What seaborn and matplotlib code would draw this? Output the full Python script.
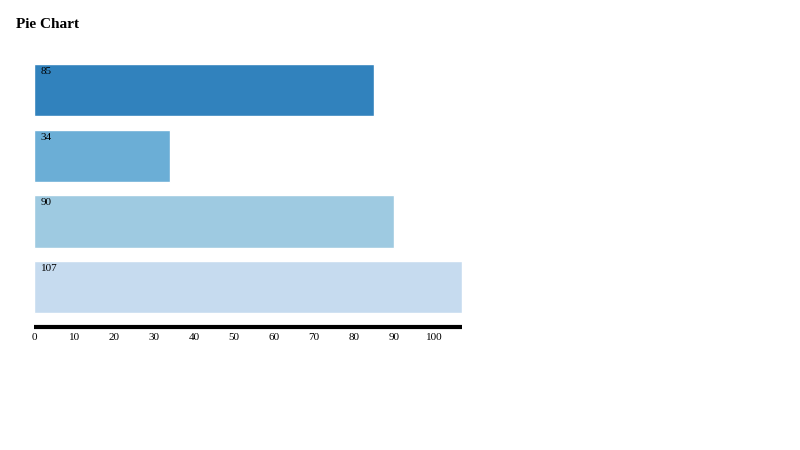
import pandas as pd
import seaborn as sns
import matplotlib.pyplot as plt

categories = ['A', 'B', 'C', 'D']
values = [85, 34, 90, 107]
colors = ['#3182bd', '#6baed6', '#9ecae1', '#c6dbef']
x_ticks = [0, 10, 20, 30, 40, 50, 60, 70, 80, 90, 100]

df = pd.DataFrame({'category': categories, 'value': values})

sns.set_style('white')
plt.rcParams['font.family'] = ['Liberation Serif', 'DejaVu Serif']

fig = plt.figure(figsize=(8, 4.5), dpi=100)
ax = fig.add_axes([34.3 / 800, 1 - 327 / 450, 428 / 800, 263 / 450])
sns.barplot(data=df, x='value', y='category', hue='category', palette=colors,
            orient='h', width=0.8, legend=False, ax=ax, saturation=1)

for i, v in enumerate(values):
    ax.annotate(str(v), xy=(0, i - 0.4), xytext=(4.5, -2.2), textcoords='offset points',
                ha='left', va='top', fontsize=8, color='black')

ax.set_xlim(0, 107)
ax.set_ylim(3.61, -0.4)
ax.set_xticks(x_ticks)
ax.set_xticklabels([str(t) for t in x_ticks], fontsize=8, color='black')
ax.tick_params(axis='x', length=0, pad=4.2)
ax.set_yticks([])
ax.set_xlabel('')
ax.set_ylabel('')
for s in ['top', 'right', 'left']:
    ax.spines[s].set_visible(False)
ax.spines['bottom'].set_linewidth(3)
ax.spines['bottom'].set_color('black')
ax.spines['bottom'].set_capstyle('butt')

fig.text(16 / 800, 1 - 24 / 450, 'Pie Chart', fontsize=11, fontweight='bold',
         va='center', ha='left', color='black')

fig.savefig('out.png', dpi=100)
